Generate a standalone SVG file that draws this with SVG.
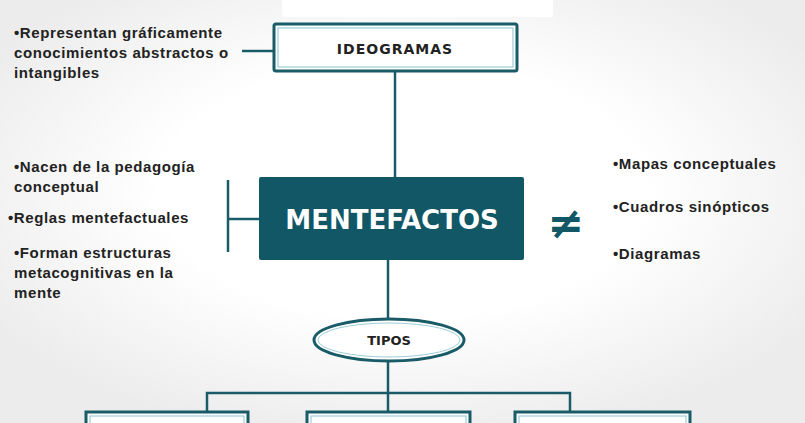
<svg xmlns="http://www.w3.org/2000/svg" width="805" height="423" viewBox="0 0 805 423">
<defs>
<radialGradient id="bg" cx="0.5" cy="0.45" r="0.6"><stop offset="0.5" stop-color="#ffffff"/><stop offset="1" stop-color="#ececec"/></radialGradient>
</defs>
<style>
.t{font-family:"Liberation Sans",Arial,sans-serif;font-weight:bold;font-size:15px;letter-spacing:0.6px;fill:#222}
.c{stroke:#1a5b68;stroke-width:2.5;fill:none}
.box{fill:#fff;stroke:#1a5b68;stroke-width:3}
.in{fill:none;stroke:#9ccfd8;stroke-width:1.2}
</style>
<rect width="805" height="423" fill="url(#bg)"/>
<rect x="282" y="0" width="271" height="17" fill="#fff"/>
<g id="connectors">
<line class="c" x1="242" y1="51" x2="273" y2="51"/>
<line class="c" x1="395" y1="71" x2="395" y2="177"/>
<line class="c" x1="228" y1="180" x2="228" y2="252"/>
<line class="c" x1="228" y1="219" x2="259" y2="219"/>
<line class="c" x1="388" y1="260" x2="388" y2="318"/>
<line class="c" x1="388" y1="361" x2="388" y2="412"/>
<polyline class="c" points="207,412 207,393 570,393 570,412"/>
</g>
<g id="ideogramas">
<rect class="box" x="274" y="24" width="243" height="47" rx="2"/>
<rect class="in" x="278" y="28" width="235" height="39"/>
<text x="395" y="54" text-anchor="middle" style="font-family:'DejaVu Sans',sans-serif;font-weight:bold;font-size:14px;letter-spacing:1px;fill:#222">IDEOGRAMAS</text>
</g>
<g id="mentefactos">
<rect x="259" y="177" width="265" height="83" rx="2" fill="#115766"/>
<text x="392" y="229" text-anchor="middle" style="font-family:'DejaVu Sans',sans-serif;font-weight:bold;font-size:26px;fill:#fff">MENTEFACTOS</text>
</g>
<g id="tipos">
<ellipse cx="389" cy="340" rx="75" ry="21" fill="#fff" stroke="#1a5b68" stroke-width="3"/>
<ellipse cx="389" cy="340" rx="71" ry="17" fill="none" stroke="#9ccfd8" stroke-width="1"/>
<text x="389" y="345" text-anchor="middle" style="font-family:'DejaVu Sans',sans-serif;font-weight:bold;font-size:13px;fill:#222">TIPOS</text>
</g>
<g id="tipo1"><rect class="box" x="86" y="412" width="162" height="20"/><rect class="in" x="90" y="416" width="154" height="12"/></g>
<g id="tipo2"><rect class="box" x="307" y="412" width="163" height="20"/><rect class="in" x="311" y="416" width="155" height="12"/></g>
<g id="tipo3"><rect class="box" x="515" y="412" width="175" height="20"/><rect class="in" x="519" y="416" width="167" height="12"/></g>
<g id="ideo-text">
<text class="t" x="14" y="38">•Representan gráficamente</text>
<text class="t" x="14" y="58">conocimientos abstractos o</text>
<text class="t" x="14" y="78">intangibles</text>
</g>
<g id="left-text">
<text class="t" x="14" y="172">•Nacen de la pedagogía</text>
<text class="t" x="14" y="192">conceptual</text>
<text class="t" x="8" y="223">•Reglas mentefactuales</text>
<text class="t" x="14" y="258">•Forman estructuras</text>
<text class="t" x="14" y="278">metacognitivas en la</text>
<text class="t" x="14" y="298">mente</text>
</g>
<text x="566" y="238" text-anchor="middle" style="font-family:'DejaVu Sans',sans-serif;font-weight:bold;font-size:44px;fill:#115766">≠</text>
<g id="right-text">
<text class="t" x="613" y="169">•Mapas conceptuales</text>
<text class="t" x="613" y="212">•Cuadros sinópticos</text>
<text class="t" x="613" y="259">•Diagramas</text>
</g>
</svg>
